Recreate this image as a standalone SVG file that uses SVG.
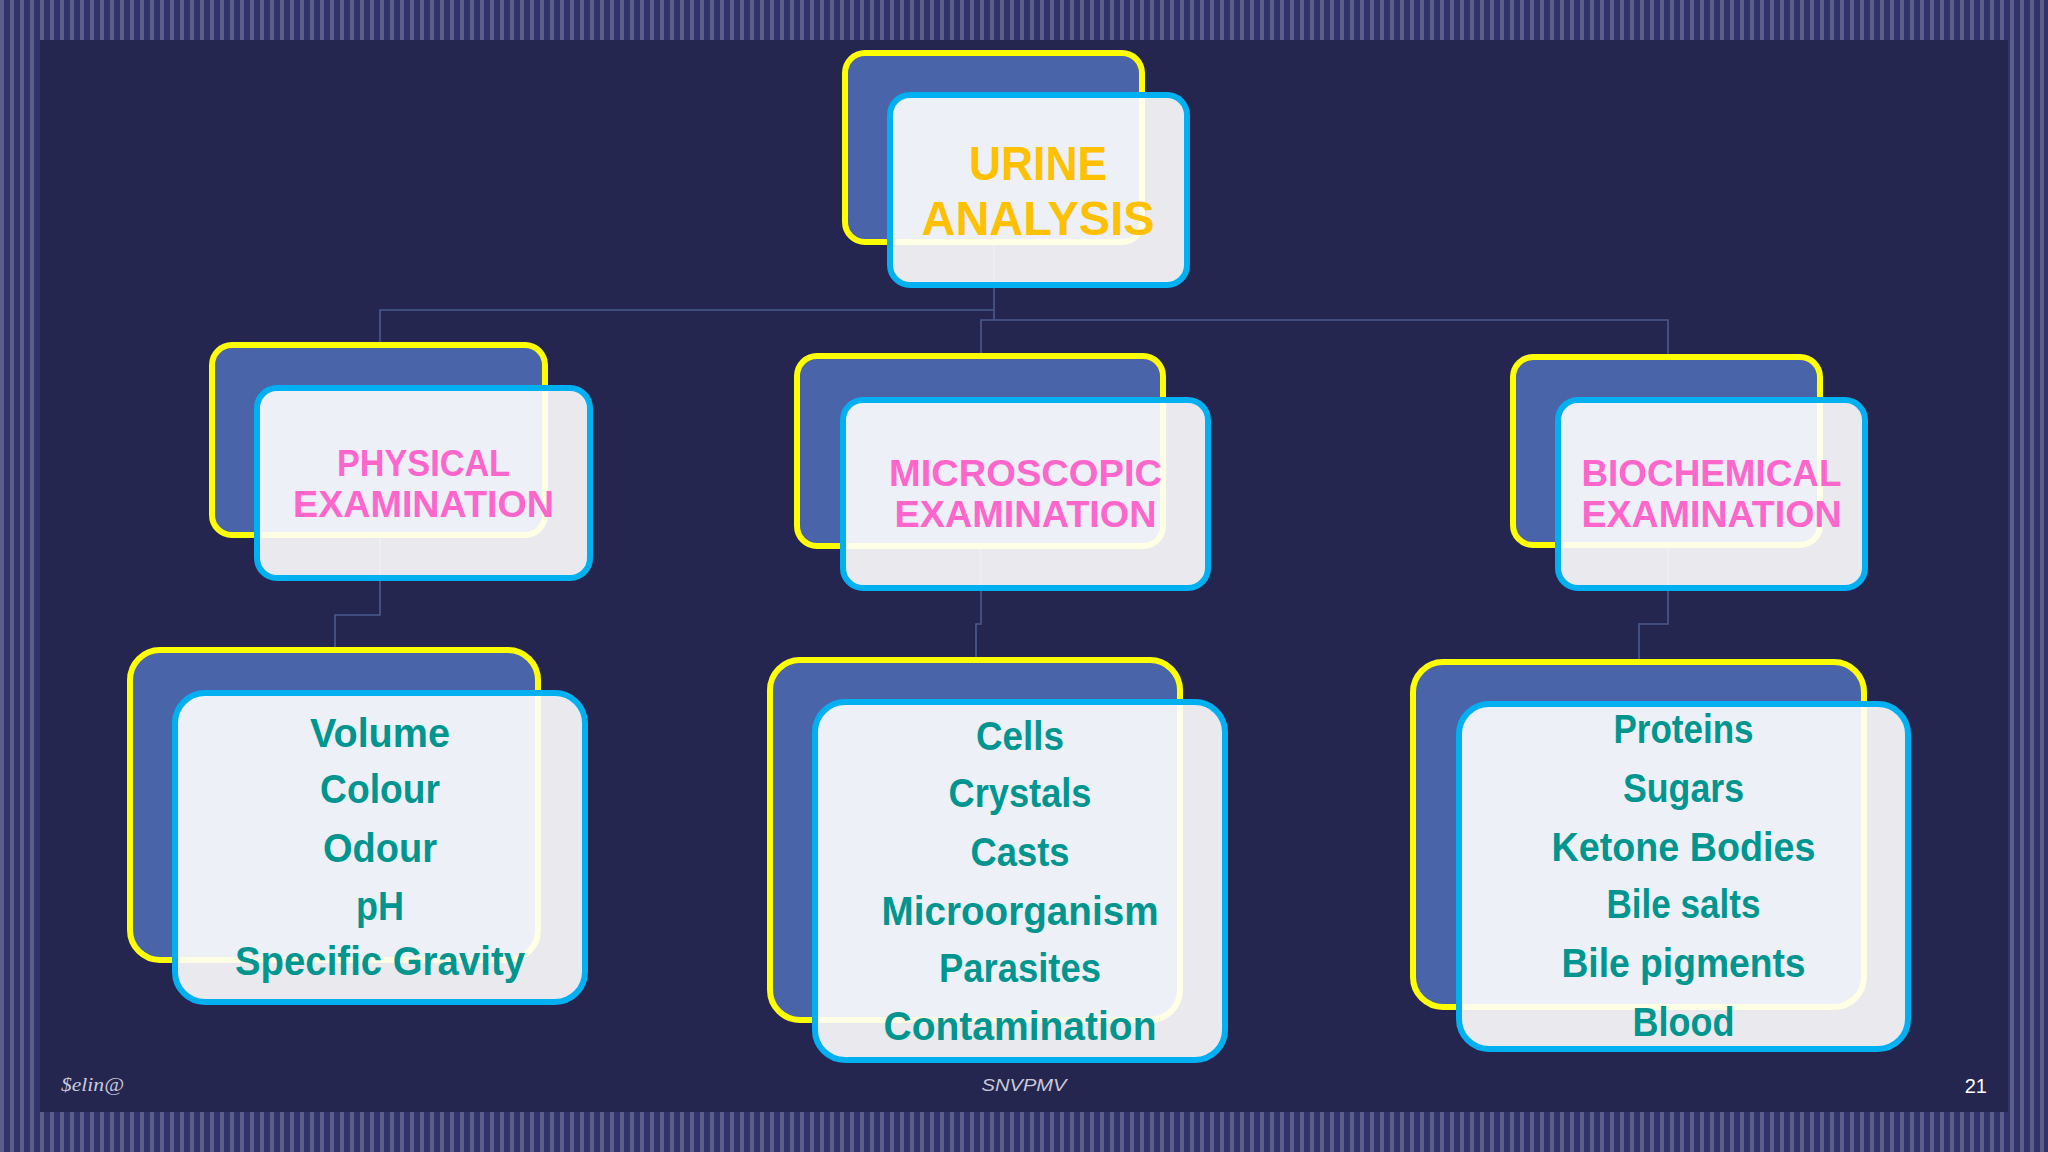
<svg xmlns="http://www.w3.org/2000/svg" width="2048" height="1152" viewBox="0 0 2048 1152">
<defs>
<pattern id="stripes" width="10" height="10" patternUnits="userSpaceOnUse">
<rect width="10" height="10" fill="#30336a"/>
<rect width="4" height="10" fill="#5a5e88"/>
</pattern>
</defs>
<style>
.back{fill:#4a64aa;stroke:#ffff00;stroke-width:6}
.front{fill:#ffffff;fill-opacity:0.9;stroke:#00b0f0;stroke-width:6}
.conn{fill:none;stroke:#4a5b8e;stroke-width:1.6}
.t{font-family:'Liberation Sans',Arial,sans-serif;font-weight:700;text-anchor:middle}
.root{fill:#ffc000;font-size:48px}
.head{fill:#ff66cc;font-size:36px}
.item{fill:#00968f;font-size:40px}
.foot{fill:#c9c9da}
</style>
<rect x="0" y="0" width="2048" height="1152" fill="url(#stripes)"/>
<rect x="40" y="40" width="1968" height="1072" fill="#252650"/>

<g id="connectors">
<path class="conn" d="M994 200 V320"/>
<path class="conn" d="M994 310 H380 V450"/>
<path class="conn" d="M981 450 V320 H1668 V450"/>
<path class="conn" d="M380 480 V615 H335 V700"/>
<path class="conn" d="M981 480 V624 H976 V700"/>
<path class="conn" d="M1668 480 V624 H1639 V700"/>
</g>

<g id="urine-analysis">
<rect class="back" x="845" y="53" width="297" height="189" rx="20"/>
<rect class="front" x="890" y="95" width="297" height="190" rx="20"/>
<text class="t root" x="1038" y="180" textLength="138" lengthAdjust="spacingAndGlyphs">URINE</text>
<text class="t root" x="1038" y="235" textLength="233" lengthAdjust="spacingAndGlyphs">ANALYSIS</text>
</g>

<g id="physical-examination">
<rect class="back" x="212" y="345" width="333" height="190" rx="20"/>
<rect class="front" x="257" y="388" width="333" height="190" rx="20"/>
<text class="t head" x="423.5" y="476" textLength="173" lengthAdjust="spacingAndGlyphs">PHYSICAL</text>
<text class="t head" x="423.5" y="517" textLength="261" lengthAdjust="spacingAndGlyphs">EXAMINATION</text>
</g>

<g id="microscopic-examination">
<rect class="back" x="797" y="356" width="366" height="190" rx="20"/>
<rect class="front" x="843" y="400" width="365" height="188" rx="20"/>
<text class="t head" x="1025.5" y="486" textLength="273" lengthAdjust="spacingAndGlyphs">MICROSCOPIC</text>
<text class="t head" x="1025.5" y="527" textLength="262" lengthAdjust="spacingAndGlyphs">EXAMINATION</text>
</g>

<g id="biochemical-examination">
<rect class="back" x="1513" y="357" width="307" height="188" rx="20"/>
<rect class="front" x="1558" y="400" width="307" height="188" rx="20"/>
<text class="t head" x="1711.5" y="486" textLength="260" lengthAdjust="spacingAndGlyphs">BIOCHEMICAL</text>
<text class="t head" x="1711.5" y="527" textLength="260" lengthAdjust="spacingAndGlyphs">EXAMINATION</text>
</g>

<g id="physical-list">
<rect class="back" x="130" y="650" width="408" height="310" rx="30"/>
<rect class="front" x="175" y="693" width="410" height="309" rx="30"/>
<text class="t item" x="380" y="747" textLength="140" lengthAdjust="spacingAndGlyphs">Volume</text>
<text class="t item" x="380" y="803" textLength="120" lengthAdjust="spacingAndGlyphs">Colour</text>
<text class="t item" x="380" y="862" textLength="114" lengthAdjust="spacingAndGlyphs">Odour</text>
<text class="t item" x="380" y="920" textLength="48" lengthAdjust="spacingAndGlyphs">pH</text>
<text class="t item" x="380" y="975" textLength="290" lengthAdjust="spacingAndGlyphs">Specific Gravity</text>
</g>

<g id="microscopic-list">
<rect class="back" x="770" y="660" width="410" height="360" rx="30"/>
<rect class="front" x="815" y="702" width="410" height="358" rx="30"/>
<text class="t item" x="1020" y="750" textLength="88" lengthAdjust="spacingAndGlyphs">Cells</text>
<text class="t item" x="1020" y="807" textLength="143" lengthAdjust="spacingAndGlyphs">Crystals</text>
<text class="t item" x="1020" y="866" textLength="99" lengthAdjust="spacingAndGlyphs">Casts</text>
<text class="t item" x="1020" y="925" textLength="277" lengthAdjust="spacingAndGlyphs">Microorganism</text>
<text class="t item" x="1020" y="982" textLength="162" lengthAdjust="spacingAndGlyphs">Parasites</text>
<text class="t item" x="1020" y="1040" textLength="273" lengthAdjust="spacingAndGlyphs">Contamination</text>
</g>

<g id="biochemical-list">
<rect class="back" x="1413" y="662" width="451" height="345" rx="30"/>
<rect class="front" x="1459" y="704" width="449" height="345" rx="30"/>
<text class="t item" x="1683.5" y="743" textLength="140" lengthAdjust="spacingAndGlyphs">Proteins</text>
<text class="t item" x="1683.5" y="802" textLength="121" lengthAdjust="spacingAndGlyphs">Sugars</text>
<text class="t item" x="1683.5" y="861" textLength="264" lengthAdjust="spacingAndGlyphs">Ketone Bodies</text>
<text class="t item" x="1683.5" y="918" textLength="154" lengthAdjust="spacingAndGlyphs">Bile salts</text>
<text class="t item" x="1683.5" y="977" textLength="244" lengthAdjust="spacingAndGlyphs">Bile pigments</text>
<text class="t item" x="1683.5" y="1036" textLength="102" lengthAdjust="spacingAndGlyphs">Blood</text>
</g>

<g id="footer">
<text class="foot" x="61" y="1091" font-family="'Liberation Serif',serif" font-style="italic" font-size="18" textLength="63" lengthAdjust="spacingAndGlyphs">$elin@</text>
<text class="foot" x="1024" y="1091" font-family="'Liberation Sans',sans-serif" font-style="italic" font-size="16" text-anchor="middle" textLength="85" lengthAdjust="spacingAndGlyphs">SNVPMV</text>
<text x="1987" y="1093" font-family="'Liberation Sans',sans-serif" font-size="20" fill="#ffffff" text-anchor="end">21</text>
</g>
</svg>
